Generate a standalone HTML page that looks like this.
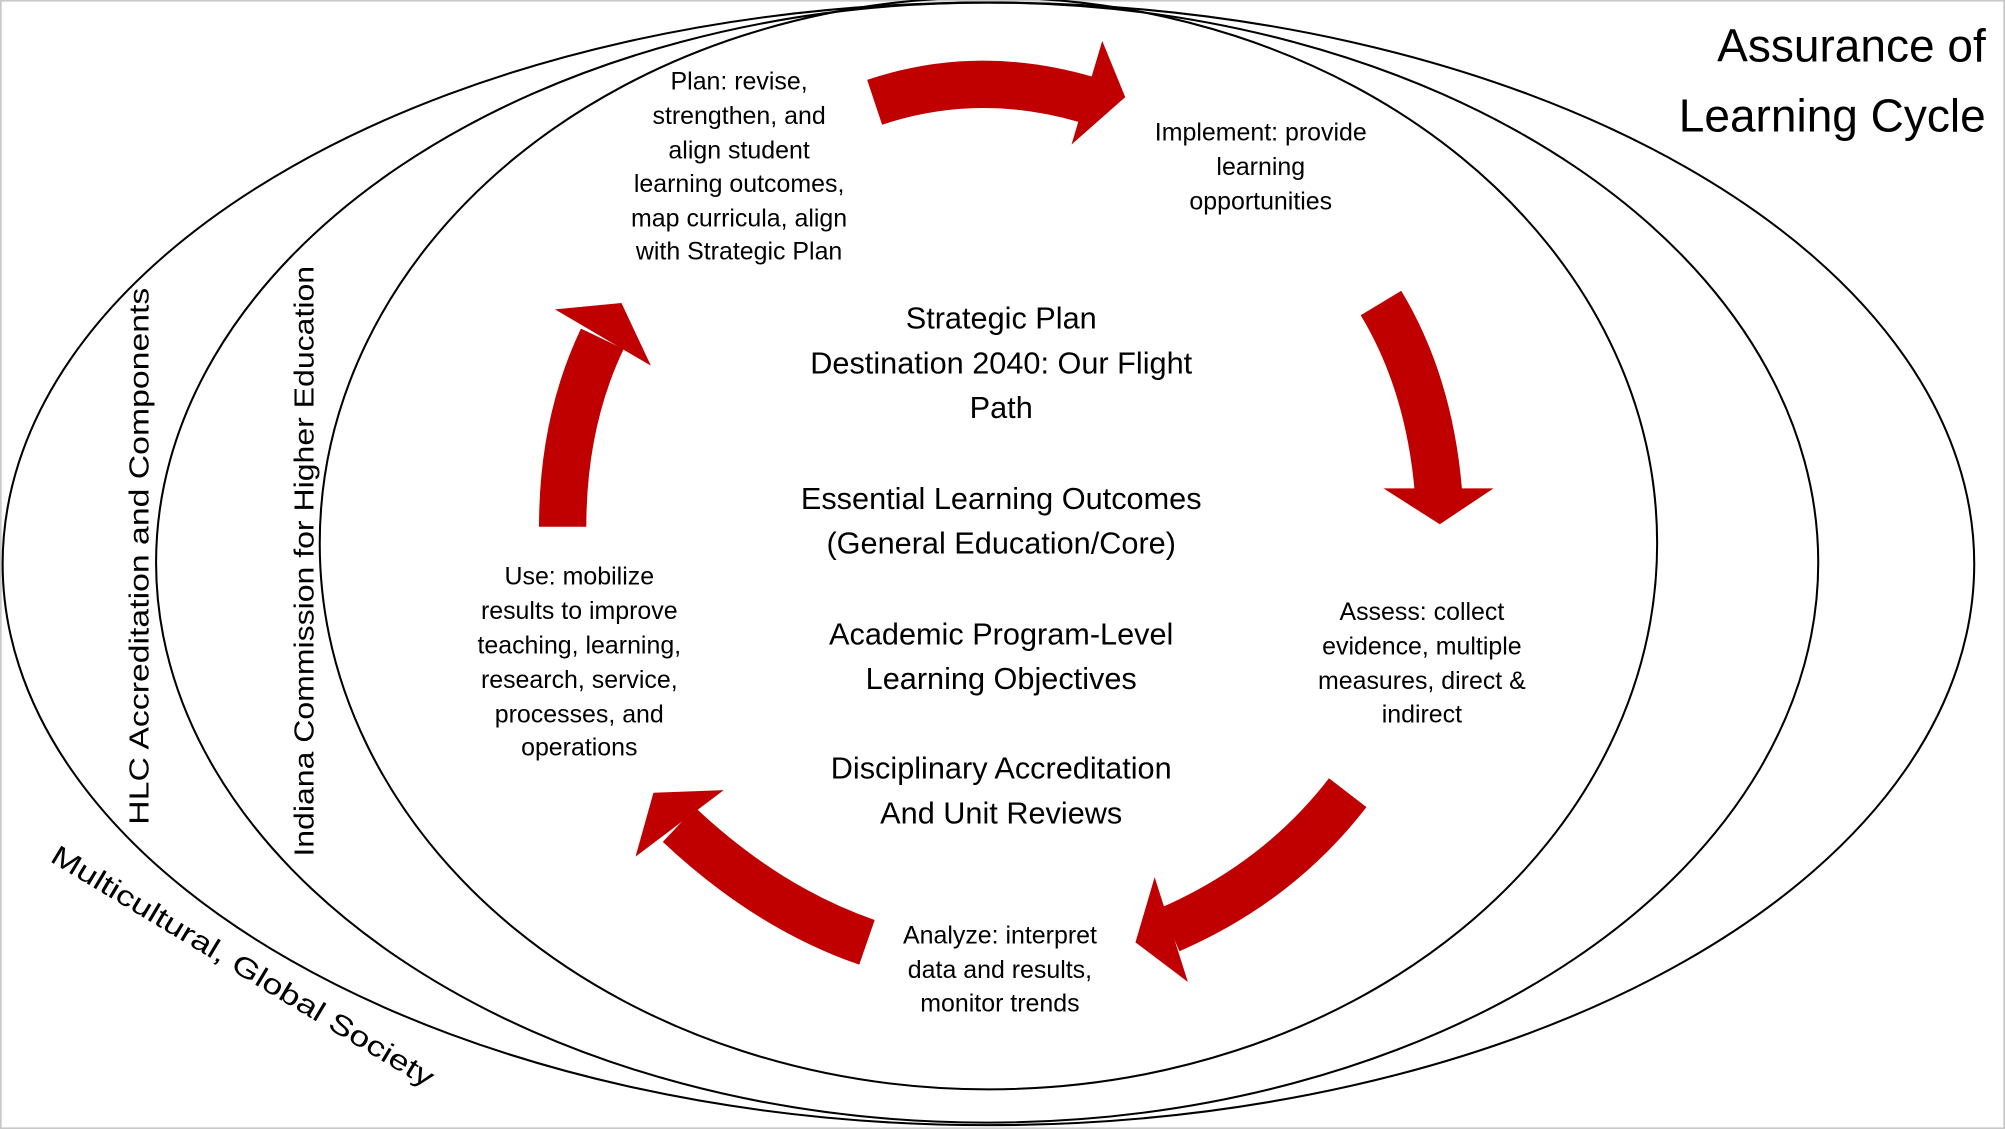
<!DOCTYPE html>
<html><head><meta charset="utf-8"><style>
html,body{margin:0;padding:0;background:#fff}
svg{display:block}
text{font-family:"Liberation Sans",sans-serif;fill:#000}
</style></head><body>
<svg width="2005" height="1129" viewBox="0 0 1568 883" xmlns="http://www.w3.org/2000/svg">
<rect x="0.5" y="0.5" width="1567" height="882" fill="#fff" stroke="#c8c8c8" stroke-width="1.5"/>
<g fill="none" stroke="#000" stroke-width="1.6">
<ellipse cx="773" cy="441" rx="771" ry="439"/>
<ellipse cx="772" cy="440" rx="650" ry="438"/>
<ellipse cx="773" cy="425" rx="523" ry="427"/>
</g>
<g fill="none" stroke="#c00000" stroke-width="37">
<path d="M684 80 Q765 53 850 78"/>
<path d="M1080 237 Q1118 300 1125 385"/>
<path d="M1054 620 Q1000 690 915 727"/>
<path d="M678 737 Q600 710 531 645"/>
<path d="M440 412 Q440 330 471 265"/>
</g>
<g fill="#c00000">
<polygon points="862,32 880,76 838,113"/>
<polygon points="1082,382 1168,382 1126,410"/>
<polygon points="903,686 929,768 888,737"/>
<polygon points="566,618 511,620 497,670"/>
<polygon points="486,237 434,242 509,286"/>
</g>
<g font-size="36" text-anchor="end">
<text x="1553" y="48">Assurance of</text>
<text x="1553" y="103">Learning Cycle</text>
</g>
<g font-size="19.5" text-anchor="middle">
<text x="578" y="70">Plan: revise,</text>
<text x="578" y="97">strengthen, and</text>
<text x="578" y="124">align student</text>
<text x="578" y="150">learning outcomes,</text>
<text x="578" y="177">map curricula, align</text>
<text x="578" y="203">with Strategic Plan</text>
<text x="986" y="110">Implement: provide</text>
<text x="986" y="137">learning</text>
<text x="986" y="164">opportunities</text>
<text x="1112" y="485">Assess: collect</text>
<text x="1112" y="512">evidence, multiple</text>
<text x="1112" y="539">measures, direct &amp;</text>
<text x="1112" y="565">indirect</text>
<text x="782" y="738">Analyze: interpret</text>
<text x="782" y="765">data and results,</text>
<text x="782" y="791">monitor trends</text>
<text x="453" y="457">Use: mobilize</text>
<text x="453" y="484">results to improve</text>
<text x="453" y="511">teaching, learning,</text>
<text x="453" y="538">research, service,</text>
<text x="453" y="565">processes, and</text>
<text x="453" y="591">operations</text>
</g>
<g font-size="24" text-anchor="middle">
<text x="783" y="257">Strategic Plan</text>
<text x="783" y="292">Destination 2040: Our Flight</text>
<text x="783" y="327">Path</text>
<text x="783" y="398">Essential Learning Outcomes</text>
<text x="783" y="433">(General Education/Core)</text>
<text x="783" y="504">Academic Program-Level</text>
<text x="783" y="539">Learning Objectives</text>
<text x="783" y="609">Disciplinary Accreditation</text>
<text x="783" y="644">And Unit Reviews</text>
</g>
<g font-size="22" text-anchor="middle">
<text transform="translate(116,435) rotate(-90)" textLength="420" lengthAdjust="spacingAndGlyphs">HLC Accreditation and Components</text>
<text transform="translate(245,439) rotate(-90)" textLength="462" lengthAdjust="spacingAndGlyphs">Indiana Commission for Higher Education</text>
<text transform="translate(186,762) rotate(31)" textLength="345" lengthAdjust="spacingAndGlyphs">Multicultural, Global Society</text>
</g>
</svg>
</body></html>
